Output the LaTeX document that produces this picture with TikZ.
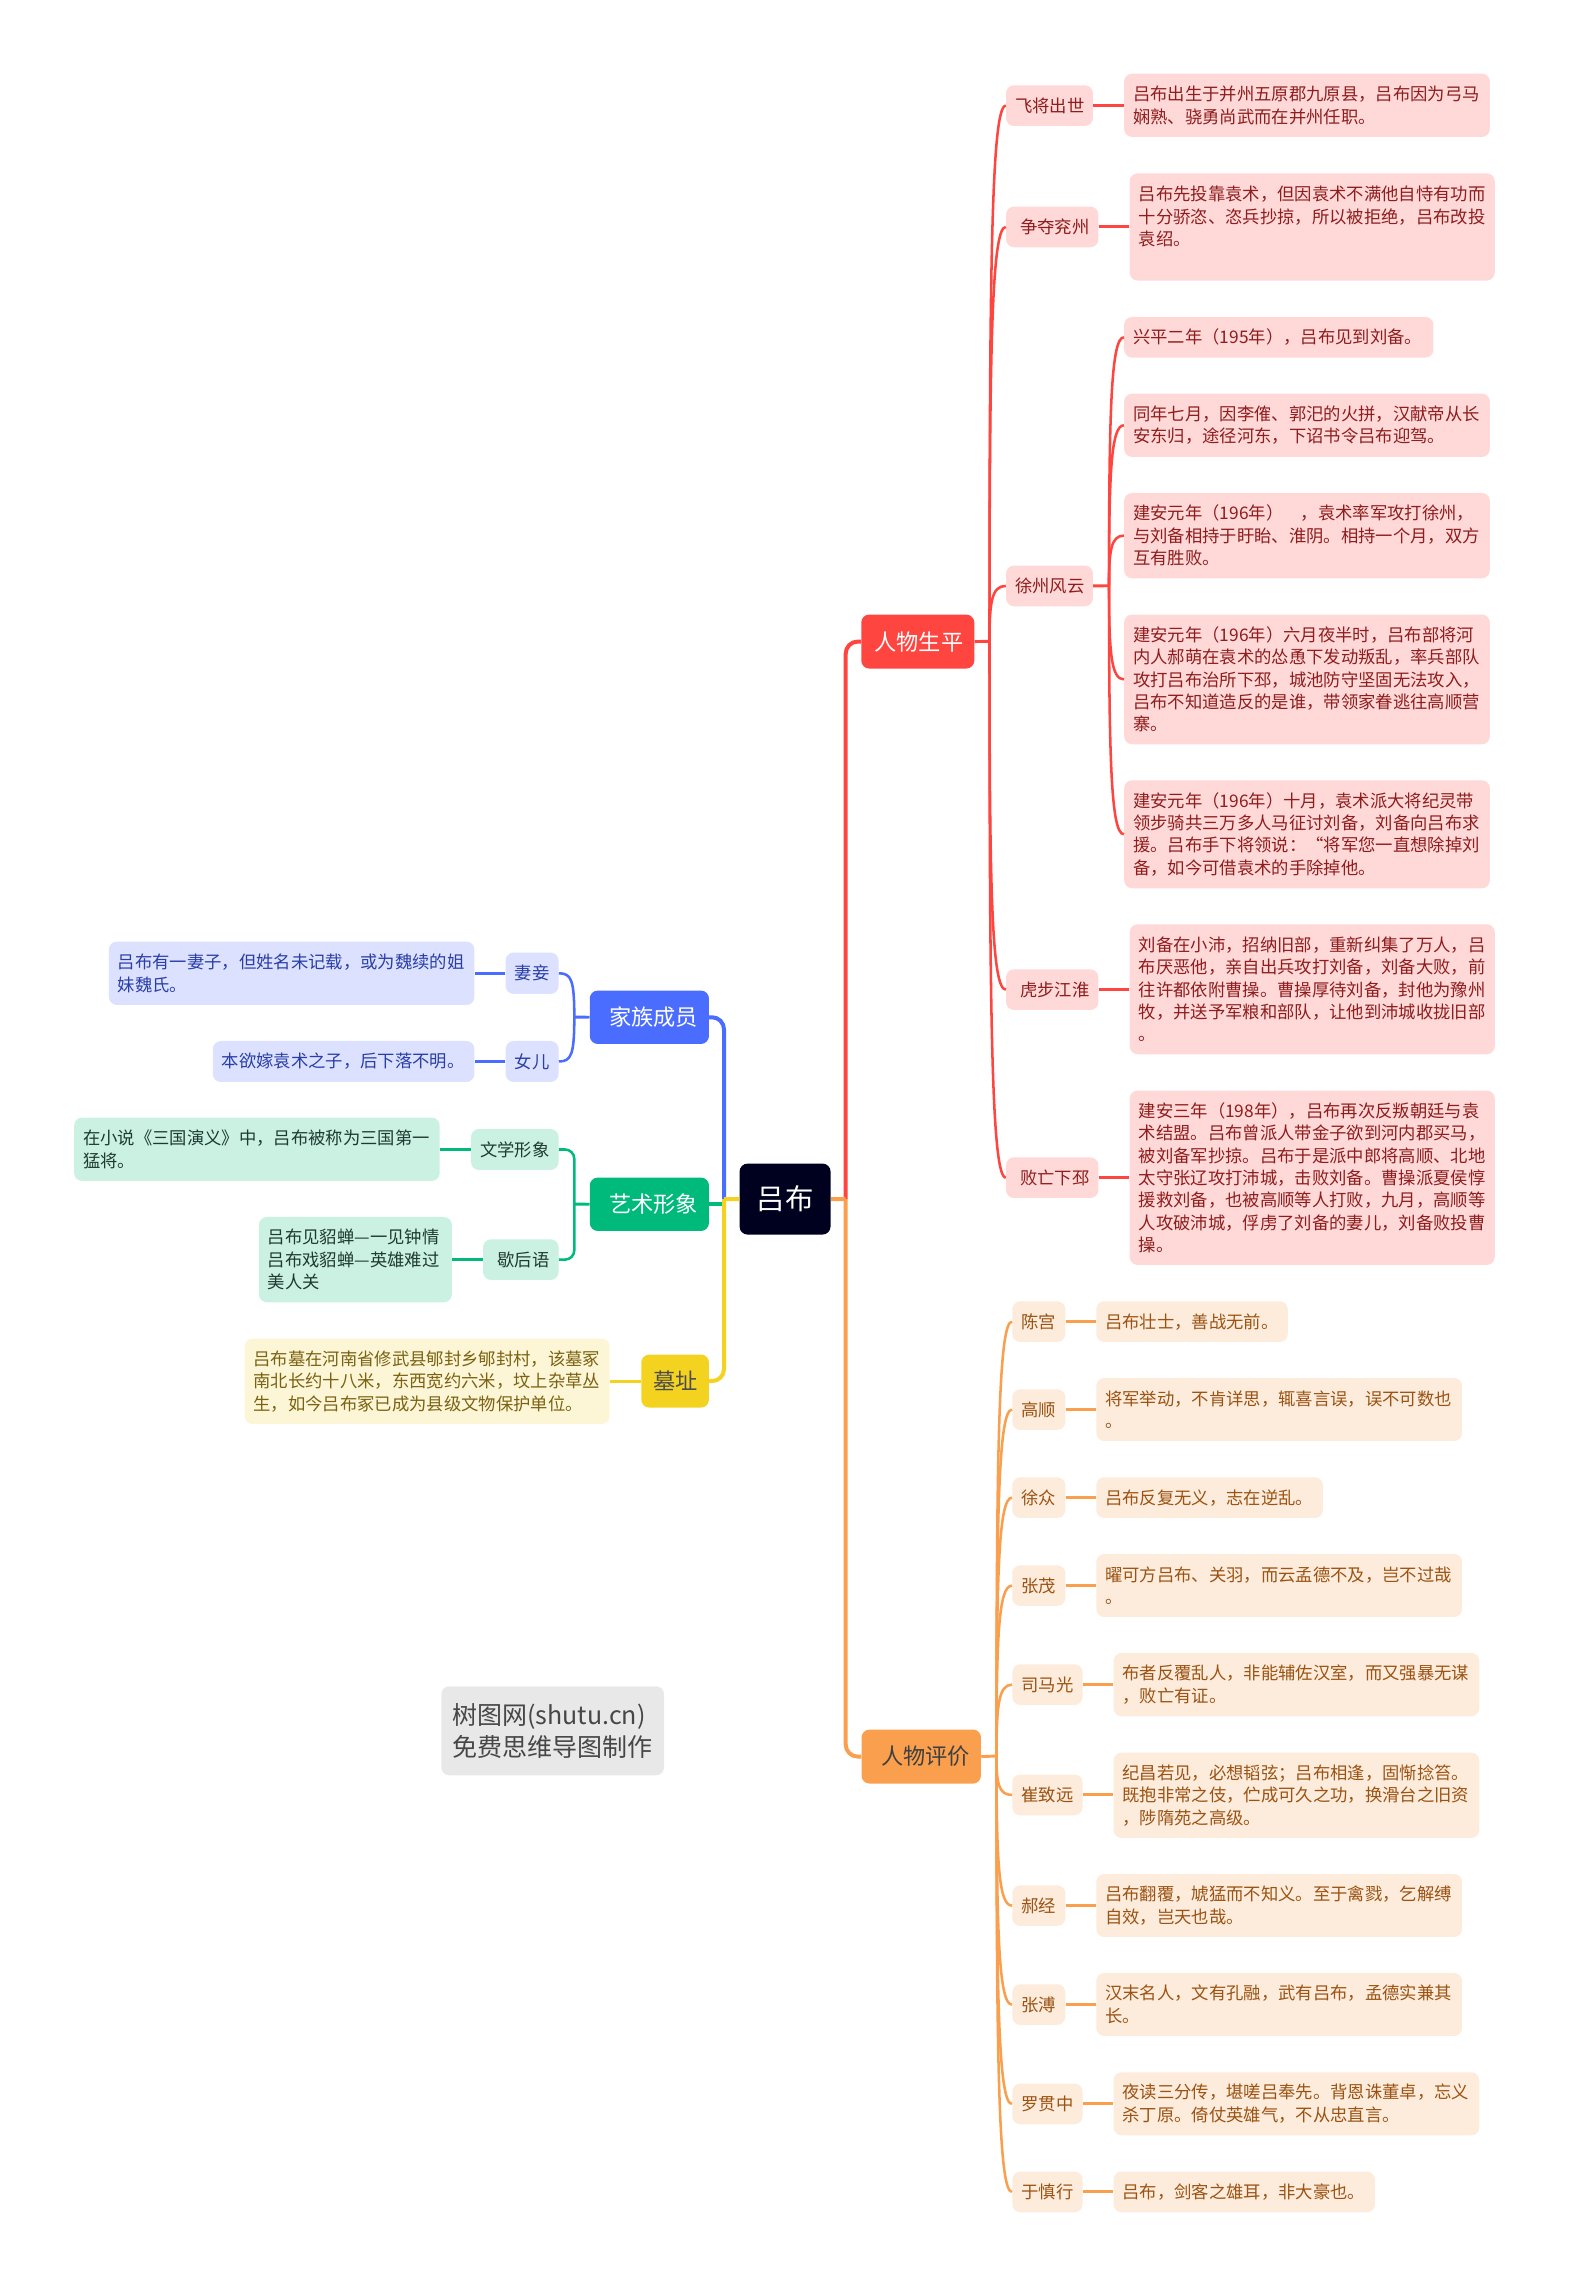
\documentclass[tikz,border=0pt]{standalone}
\usepackage{fontspec}
\setmainfont{Noto Sans CJK SC}
\usetikzlibrary{calc}

\definecolor{redline}{HTML}{FF4540}
\definecolor{redfill}{HTML}{FFD8D8}
\definecolor{redtext}{HTML}{8E1D1D}
\definecolor{orgline}{HTML}{F99F4D}
\definecolor{orgfill}{HTML}{FDEBDC}
\definecolor{orgtext}{HTML}{9A5312}
\definecolor{blueline}{HTML}{4A6CFF}
\definecolor{bluefill}{HTML}{DBE1FF}
\definecolor{bluetext}{HTML}{2A3EA6}
\definecolor{grnline}{HTML}{00BA7C}
\definecolor{grnfill}{HTML}{CAF1E2}
\definecolor{grntext}{HTML}{1F3A32}
\definecolor{ylwline}{HTML}{F4D320}
\definecolor{ylwfill}{HTML}{FDF6D6}
\definecolor{ylwtext}{HTML}{7A6212}

\tikzset{
  wh/.code 2 args={\pgfmathsetlengthmacro\boxw{(#1-18)*0.75pt}\pgfmathsetlengthmacro\boxh{#2*0.75pt}\tikzset{text width=\boxw,minimum height=\boxh}},
  wht/.code 2 args={\pgfmathsetlengthmacro\boxw{(#1-22)*0.75pt}\pgfmathsetlengthmacro\boxh{#2*0.75pt}\tikzset{text width=\boxw,minimum height=\boxh}},
  box/.style={anchor=north west,rounded corners=6pt,inner xsep=6.75pt,inner ysep=0pt,font=\fontsize{13}{16.8}\selectfont},
  note/.style={box,align=left},
  sub/.style={box,align=right},
  topic/.style={box,align=right,inner xsep=8.25pt,font=\fontsize{16.65}{20}\selectfont},
  rednote/.style={note,fill=redfill,text=redtext},
  redsub/.style={sub,fill=redfill,text=redtext},
  orgnote/.style={note,fill=orgfill,text=orgtext},
  orgsub/.style={sub,fill=orgfill,text=orgtext},
  bluenote/.style={note,fill=bluefill,text=bluetext},
  bluesub/.style={sub,fill=bluefill,text=bluetext},
  grnnote/.style={note,fill=grnfill,text=grntext},
  grnsub/.style={sub,fill=grnfill,text=grntext},
  ylwnote/.style={note,fill=ylwfill,text=ylwtext},
  trunk/.style={line width=3pt,rounded corners=9pt},
  twig/.style={line width=1.9pt},
  stub/.style={line width=2.2pt}
}

\begin{document}
\begin{tikzpicture}[x=0.75pt,y=-0.75pt]
\useasboundingbox (0,0) rectangle (1568,2285);

% hubs
\coordinate (hubleft) at (724,1199);
\coordinate (hubright) at (845.7,1199);
\coordinate (hubred) at (989.5,641.3);
\coordinate (hubxuzhou) at (1109,585.7);
\coordinate (huborg) at (996.5,1756);
\coordinate (hubblue) at (574.3,1017);
\coordinate (hubgrn) at (574.3,1204);

% root and topics
\node[box,fill=blue!12!black,text=white,align=center,font=\fontsize{21.3}{26}\selectfont,wh={91}{71}] (lvbu) at (739.3,1163.3) {吕布};
\node[topic,fill=redline,text=white,wht={113}{54}] (shengping) at (861,614.3) {人物生平};
\node[topic,fill=orgline,text=black!75,wht={119.4}{54}] (pingjia) at (861.3,1729.3) {人物评价};
\node[topic,fill=blueline,text=white,wht={119.2}{53.4}] (jiazu) at (589.5,990.3) {家族成员};
\node[topic,fill=grnline,text=white,wht={119.2}{53.4}] (yishu) at (589.5,1177.3) {艺术形象};
\node[topic,fill=ylwline,text=black!70,wht={67.7}{53}] (muzhi) at (641,1354.3) {墓址};

% life
\node[redsub,wh={86.8}{40.7}] (feijiang) at (1005.8,85) {飞将出世};
\node[redsub,wh={92.3}{40.7}] (zhengduo) at (1005.8,206.3) {争夺兖州};
\node[redsub,wh={86.8}{40.7}] (xuzhou) at (1005.8,565.3) {徐州风云};
\node[redsub,wh={92.3}{40.7}] (hubu) at (1005.8,969) {虎步江淮};
\node[redsub,wh={92.3}{40.7}] (baiwang) at (1005.8,1157) {败亡下邳};

\node[rednote,wh={365.7}{63.4}] (nfeijiang) at (1123.9,73.3) {吕布出生于并州五原郡九原县，吕布因为弓马\\娴熟、骁勇尚武而在并州任职。};
\node[rednote,wh={365.1}{107.3}] (nzhengduo) at (1129.4,173) {吕布先投靠袁术，但因袁术不满他自恃有功而\\十分骄恣、恣兵抄掠，所以被拒绝，吕布改投\\袁绍。\\~};
\node[rednote,wh={309.3}{40.6}] (nxinping) at (1123.9,316.7) {兴平二年（195年），吕布见到刘备。};
\node[rednote,wh={365.7}{63.4}] (ntongnian) at (1123.9,393.3) {同年七月，因李傕、郭汜的火拼，汉献帝从长\\安东归，途径河东，下诏书令吕布迎驾。};
\node[rednote,wh={365.7}{85.3}] (njianan) at (1123.9,492.7) {建安元年（196年）\hspace{13pt}，袁术率军攻打徐州，\\与刘备相持于盱眙、淮阴。相持一个月，双方\\互有胜败。};
\node[rednote,wh={365.7}{129.7}] (nliuyue) at (1123.9,614.3) {建安元年（196年）六月夜半时，吕布部将河\\内人郝萌在袁术的怂恿下发动叛乱，率兵部队\\攻打吕布治所下邳，城池防守坚固无法攻入，\\吕布不知道造反的是谁，带领家眷逃往高顺营\\寨。};
\node[rednote,wh={365.7}{108}] (nshiyue) at (1123.9,780) {建安元年（196年）十月，袁术派大将纪灵带\\领步骑共三万多人马征讨刘备，刘备向吕布求\\援。吕布手下将领说：“将军您一直想除掉刘\\备，如今可借袁术的手除掉他。};
\node[rednote,wh={365.1}{130}] (nhubu) at (1129.4,924) {刘备在小沛，招纳旧部，重新纠集了万人，吕\\布厌恶他，亲自出兵攻打刘备，刘备大败，前\\往许都依附曹操。曹操厚待刘备，封他为豫州\\牧，并送予军粮和部队，让他到沛城收拢旧部\\。};
\node[rednote,wh={365.1}{174.4}] (nbaiwang) at (1129.4,1090.3) {建安三年（198年），吕布再次反叛朝廷与袁\\术结盟。吕布曾派人带金子欲到河内郡买马，\\被刘备军抄掠。吕布于是派中郎将高顺、北地\\太守张辽攻打沛城，击败刘备。曹操派夏侯惇\\援救刘备，也被高顺等人打败，九月，高顺等\\人攻破沛城，俘虏了刘备的妻儿，刘备败投曹\\操。};

% opinions
\node[orgsub,wh={53}{40.7}] (chengong) at (1012,1301) {陈宫};
\node[orgsub,wh={53}{40.7}] (gaoshun) at (1012,1389) {高顺};
\node[orgsub,wh={53}{40.7}] (xuzhong) at (1012,1477) {徐众};
\node[orgsub,wh={53}{40.7}] (zhangmao) at (1012,1565) {张茂};
\node[orgsub,wh={70.3}{40.7}] (simaguang) at (1012,1664) {司马光};
\node[orgsub,wh={70.3}{40.7}] (cuizhiyuan) at (1012,1774.3) {崔致远};
\node[orgsub,wh={53}{40.7}] (haojing) at (1012,1885) {郝经};
\node[orgsub,wh={53}{40.7}] (zhangpu) at (1012,1984) {张溥};
\node[orgsub,wh={70.3}{40.7}] (luoguanzhong) at (1012,2083.3) {罗贯中};
\node[orgsub,wh={70.3}{40.7}] (yushenxing) at (1012,2171.3) {于慎行};

\node[orgnote,wh={191.5}{40.7}] (nchengong) at (1096,1301) {吕布壮士，善战无前。};
\node[orgnote,wh={365.8}{63}] (ngaoshun) at (1096,1377.7) {将军举动，不肯详思，辄喜言误，误不可数也\\。};
\node[orgnote,wh={226.6}{40.7}] (nxuzhong) at (1096,1477) {吕布反复无义，志在逆乱。};
\node[orgnote,wh={365.8}{63}] (nzhangmao) at (1096,1553.7) {曜可方吕布、关羽，而云孟德不及，岂不过哉\\。};
\node[orgnote,wh={365.7}{63.4}] (nsimaguang) at (1113.3,1652.6) {布者反覆乱人，非能辅佐汉室，而又强暴无谋\\，败亡有证。};
\node[orgnote,wh={365.7}{85.4}] (ncuizhiyuan) at (1113.3,1752.3) {纪昌若见，必想韬弦；吕布相逢，固惭捻笞。\\既抱非常之伎，伫成可久之功，换滑台之旧资\\，陟隋苑之高级。};
\node[orgnote,wh={365.8}{63}] (nhaojing) at (1096,1873.7) {吕布翻覆，虓猛而不知义。至于禽戮，乞解缚\\自效，岂天也哉。};
\node[orgnote,wh={365.8}{63}] (nzhangpu) at (1096,1972.7) {汉末名人，文有孔融，武有吕布，孟德实兼其\\长。};
\node[orgnote,wh={365.7}{63}] (nluoguanzhong) at (1113.3,2072) {夜读三分传，堪嗟吕奉先。背恩诛董卓，忘义\\杀丁原。倚仗英雄气，不从忠直言。};
\node[orgnote,wh={261.3}{40.7}] (nyushenxing) at (1113.3,2171.3) {吕布，剑客之雄耳，非大豪也。};

% family, art, tomb
\node[bluesub,wh={52.9}{41.4}] (qiqie) at (505.4,952.3) {妻妾};
\node[bluesub,wh={52.9}{41}] (nver) at (505.4,1040.7) {女儿};
\node[bluenote,wh={365.5}{63.4}] (nqiqie) at (108.6,941.3) {吕布有一妻子，但姓名未记载，或为魏续的姐\\妹魏氏。};
\node[bluenote,wh={261.5}{41}] (nnver) at (212.6,1040.7) {本欲嫁袁术之子，后下落不明。};
\node[grnsub,wh={87.6}{41}] (wenxue) at (470.7,1128.7) {文学形象};
\node[grnsub,wh={75.5}{40.7}] (xiehou) at (482.8,1239) {歇后语};
\node[grnnote,wh={365.5}{63.4}] (nwenxue) at (73.9,1117.3) {在小说《三国演义》中，吕布被称为三国第一\\猛将。};
\node[grnnote,wh={193}{85.3}] (nxiehou) at (258.6,1216.7) {吕布见貂蝉—一见钟情\\吕布戏貂蝉—英雄难过\\美人关};
\node[ylwnote,wh={365.1}{85.4}] (nmuzhi) at (244.3,1338.3) {吕布墓在河南省修武县郇封乡郇封村，该墓冢\\南北长约十八米，东西宽约六米，坟上杂草丛\\生，如今吕布冢已成为县级文物保护单位。};

% watermark
\node[box,fill=black!9,text=black!72,align=left,inner xsep=8.4pt,font=\fontsize{18.75}{24}\selectfont,text width=150.3pt,minimum height=66.75pt] (shutu) at (441,1686) {树图网(shutu.cn)\\免费思维导图制作};

% trunks
\draw[trunk,grnline] (yishu.east) -- (hubleft |- yishu.east);
\draw[trunk,blueline] (hubleft) |- (jiazu.east);
\draw[trunk,ylwline] (hubleft) |- (muzhi.east);
\draw[line width=3pt,ylwline] (lvbu.west) -- (hubleft);
\draw[trunk,redline] (hubright) |- (shengping.west);
\draw[trunk,orgline] (hubright) |- (pingjia.west);
\draw[line width=3pt,orgline] (lvbu.east) -- (hubright);

% stubs
\draw[stub,redline] (shengping.east) -- (hubred);
\draw[stub,orgline] (pingjia.east) -- (huborg);
\draw[stub,blueline] (jiazu.west) -- (hubblue);
\draw[stub,grnline] (yishu.west) -- (hubgrn);
\draw[stub,redline] (xuzhou.east) -- (hubxuzhou);

% curves
\foreach \n in {feijiang,zhengduo,xuzhou,hubu,baiwang}
  \draw[twig,redline] (hubred) .. controls ($(hubred)!0.7!(hubred |- \n.west)$) and ($(hubred |- \n.west)+(2,0)$) .. (\n.west);
\foreach \n in {chengong,gaoshun,xuzhong,zhangmao,simaguang,cuizhiyuan,haojing,zhangpu,luoguanzhong,yushenxing}
  \draw[twig,orgline] (huborg) .. controls ($(huborg)!0.7!(huborg |- \n.west)$) and ($(huborg |- \n.west)+(2,0)$) .. (\n.west);
\foreach \n in {nxinping,ntongnian,njianan,nliuyue,nshiyue}
  \draw[twig,redline] (hubxuzhou) .. controls ($(hubxuzhou)!0.7!(hubxuzhou |- \n.west)$) and ($(hubxuzhou |- \n.west)+(2,0)$) .. (\n.west);
\foreach \n in {qiqie,nver}
  \draw[twig,blueline] (hubblue) .. controls ($(hubblue)!0.85!(hubblue |- \n.east)$) and ($(hubblue |- \n.east)+(-3,0)$) .. (\n.east);
\foreach \n in {wenxue,xiehou}
  \draw[twig,grnline,rounded corners=7pt] (hubgrn) |- (\n.east);

% leaf links
\foreach \a/\b in {feijiang/nfeijiang,zhengduo/nzhengduo,hubu/nhubu,baiwang/nbaiwang}
  \draw[stub,redline] (\a.east) -- (\b.west |- \a.east);
\foreach \a/\b in {chengong/nchengong,gaoshun/ngaoshun,xuzhong/nxuzhong,zhangmao/nzhangmao,simaguang/nsimaguang,cuizhiyuan/ncuizhiyuan,haojing/nhaojing,zhangpu/nzhangpu,luoguanzhong/nluoguanzhong,yushenxing/nyushenxing}
  \draw[stub,orgline] (\a.east) -- (\b.west |- \a.east);
\foreach \a/\b in {qiqie/nqiqie,nver/nnver}
  \draw[stub,blueline] (\a.west) -- (\b.east |- \a.west);
\foreach \a/\b in {wenxue/nwenxue,xiehou/nxiehou}
  \draw[stub,grnline] (\a.west) -- (\b.east |- \a.west);
\draw[stub,ylwline] (muzhi.west) -- (nmuzhi.east |- muzhi.west);
\end{tikzpicture}
\end{document}
